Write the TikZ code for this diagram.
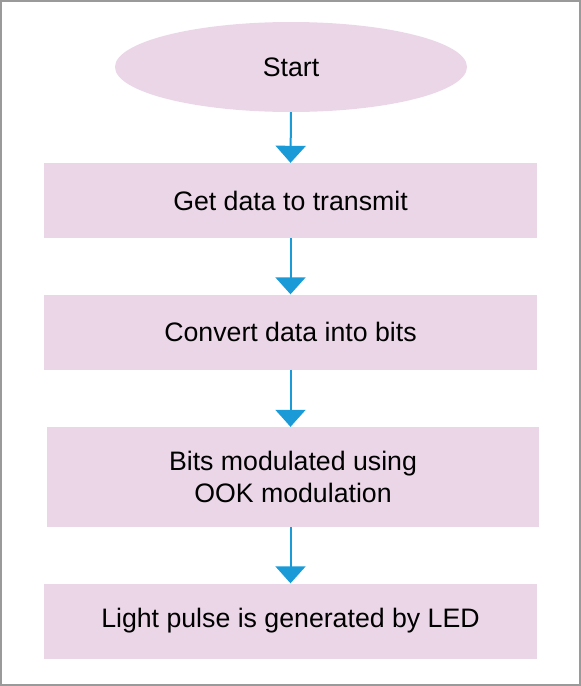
\documentclass[tikz,border=0pt]{standalone}
\usepackage{fontspec}
\setmainfont{Liberation Sans}
\usetikzlibrary{shapes.geometric,arrows.meta}
\definecolor{boxpink}{HTML}{EBD6E8}
\definecolor{flowblue}{HTML}{1A9AD6}
\definecolor{framegray}{HTML}{9A9A9A}
\tikzset{
  stepbox/.style={fill=boxpink,minimum width=493pt,minimum height=75pt,inner sep=0pt,
    align=center,font=\fontsize{26.7}{32}\selectfont},
  startnode/.style={ellipse,fill=boxpink,minimum width=352pt,minimum height=90pt,inner sep=0pt,
    font=\fontsize{26.7}{32}\selectfont},
  flow/.style={flowblue,line width=2pt,-{Triangle[width=30pt,length=17pt]}}
}
\begin{document}
\begin{tikzpicture}[x=1pt,y=-1pt]
\useasboundingbox (0,0) rectangle (581,686);
\draw[framegray,line width=2pt](1,1) rectangle (580,685);

\node[startnode] (start) at (291,67) {Start};
\node[stepbox] (get) at (290.5,200.5) {Get data to transmit};
\node[stepbox] (conv) at (290.5,332) {Convert data into bits};
\node[stepbox,minimum width=492pt,minimum height=100pt] (mod) at (293,477) {Bits modulated using\\ OOK modulation};
\node[stepbox] (led) at (290.5,621) {Light pulse is generated by LED};

\draw[flow] (start.south) -- (get.north);
\draw[flow] (get.south) -- (conv.north);
\draw[flow] (conv.south) -- (conv.south|-mod.north);
\draw[flow] (conv.south|-mod.south) -- (led.north);
\end{tikzpicture}
\end{document}
